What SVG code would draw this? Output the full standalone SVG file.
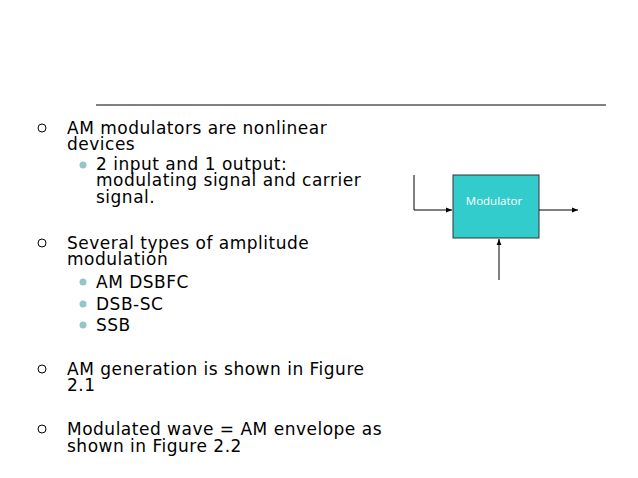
<svg xmlns="http://www.w3.org/2000/svg" width="638" height="478" viewBox="0 0 638 478">
<style>
.t{font-family:"DejaVu Sans",Verdana,sans-serif;font-size:17px;letter-spacing:0.5px;fill:#000}
.b{fill:none;stroke:#000;stroke-width:1}
.d{fill:#93c6c6}
.c{stroke:#000;stroke-width:1;fill:none}
</style>
<defs><marker id="a" viewBox="0 0 10 10" refX="10" refY="5" markerWidth="6" markerHeight="6" orient="auto"><path d="M0,1 L10,5 L0,9z" fill="#000"/></marker></defs>
<rect width="638" height="478" fill="#fff"/>
<line x1="96" y1="105" x2="606" y2="105" stroke="#000"/>
<g id="text">
<circle class="b" cx="42" cy="128" r="4"/>
<text class="t" x="67" y="134">AM modulators are nonlinear</text>
<text class="t" x="67" y="150">devices</text>
<circle class="d" cx="83" cy="165" r="3.5"/>
<text class="t" x="96" y="170">2 input and 1 output:</text>
<text class="t" x="96" y="186">modulating signal and carrier</text>
<text class="t" x="96" y="203">signal.</text>
<circle class="b" cx="42" cy="243" r="4"/>
<text class="t" x="67" y="249">Several types of amplitude</text>
<text class="t" x="67" y="265">modulation</text>
<circle class="d" cx="83" cy="282" r="3.5"/>
<text class="t" x="96" y="288">AM DSBFC</text>
<circle class="d" cx="83" cy="304" r="3.5"/>
<text class="t" x="96" y="310">DSB-SC</text>
<circle class="d" cx="83" cy="325" r="3.5"/>
<text class="t" x="96" y="331">SSB</text>
<circle class="b" cx="42" cy="369" r="4"/>
<text class="t" x="67" y="375">AM generation is shown in Figure</text>
<text class="t" x="67" y="391">2.1</text>
<circle class="b" cx="42" cy="429" r="4"/>
<text class="t" x="67" y="435">Modulated wave = AM envelope as</text>
<text class="t" x="67" y="452">shown in Figure 2.2</text>
</g>
<g id="modulator">
<rect x="453" y="175" width="86" height="63" fill="#33cccc" stroke="#333"/>
<text x="494" y="205" text-anchor="middle" font-family="Open Sans,sans-serif" font-size="11.5" fill="#fff">Modulator</text>
</g>
<g id="connectors">
<path class="c" d="M414,175 V210 H452" marker-end="url(#a)"/>
<path class="c" d="M539,210 H578" marker-end="url(#a)"/>
<path class="c" d="M499,280 V239" marker-end="url(#a)"/>
</g>
</svg>
